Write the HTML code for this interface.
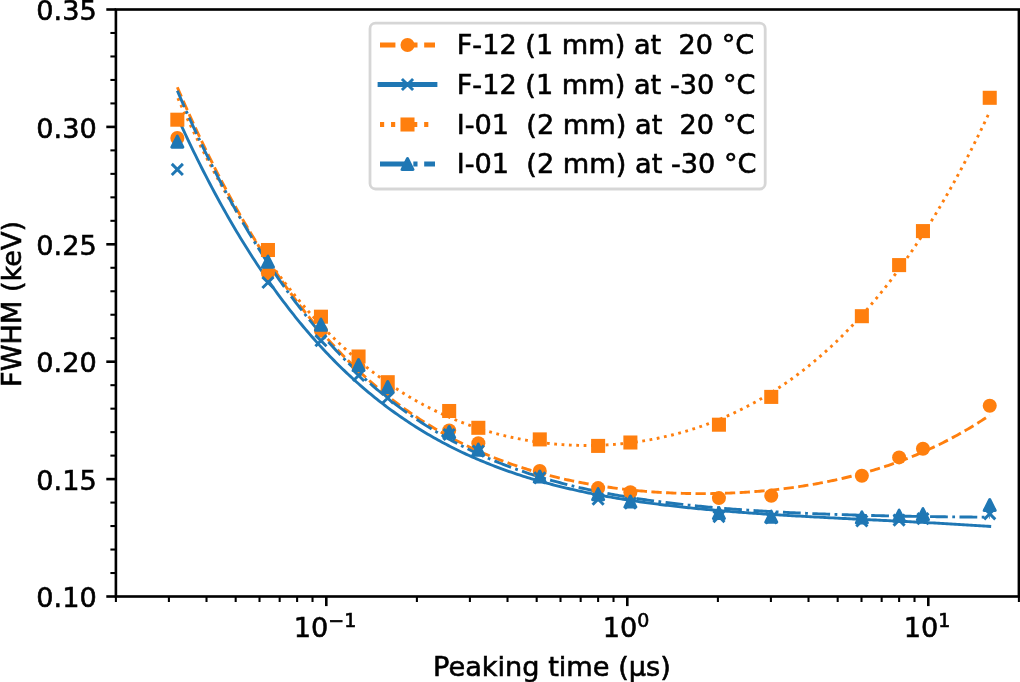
<!DOCTYPE html>
<html lang="en"><head><meta charset="utf-8"><title>FWHM vs peaking time</title>
<style>html,body{margin:0;padding:0;background:#fff;}svg{display:block;}</style></head>
<body>
<svg width="1020" height="682" viewBox="0 0 1020 682" font-family="'DejaVu Sans', 'Liberation Sans', sans-serif" font-size="27.17px">
<rect width="1020" height="682" fill="#fff"/>
<g fill="none" stroke-linejoin="round">
<polyline points="177.34,87.22 179.38,91.97 181.41,96.68 183.45,101.34 185.48,105.96 187.52,110.54 189.56,115.07 191.59,119.56 193.63,124.02 195.66,128.43 197.70,132.79 199.74,137.12 201.77,141.41 203.81,145.66 205.85,149.87 207.88,154.03 209.92,158.16 211.95,162.25 213.99,166.31 216.03,170.32 218.06,174.29 220.10,178.23 222.13,182.13 224.17,185.99 226.21,189.82 228.24,193.60 230.28,197.36 232.31,201.07 234.35,204.75 236.39,208.39 238.42,212.00 240.46,215.58 242.49,219.11 244.53,222.62 246.57,226.09 248.60,229.52 250.64,232.92 252.67,236.29 254.71,239.62 256.75,242.92 258.78,246.19 260.82,249.43 262.85,252.63 264.89,255.80 266.93,258.94 268.96,262.05 271.00,265.12 273.04,268.16 275.07,271.18 277.11,274.16 279.14,277.11 281.18,280.03 283.22,282.92 285.25,285.78 287.29,288.62 289.32,291.42 291.36,294.19 293.40,296.94 295.43,299.65 297.47,302.34 299.50,305.00 301.54,307.63 303.58,310.23 305.61,312.80 307.65,315.35 309.68,317.87 311.72,320.37 313.76,322.83 315.79,325.27 317.83,327.69 319.86,330.07 321.90,332.43 323.94,334.77 325.97,337.08 328.01,339.37 330.04,341.63 332.08,343.86 334.12,346.07 336.15,348.26 338.19,350.42 340.23,352.55 342.26,354.67 344.30,356.76 346.33,358.82 348.37,360.87 350.41,362.89 352.44,364.88 354.48,366.86 356.51,368.81 358.55,370.74 360.59,372.64 362.62,374.53 364.66,376.39 366.69,378.23 368.73,380.05 370.77,381.85 372.80,383.63 374.84,385.38 376.87,387.12 378.91,388.83 380.95,390.53 382.98,392.20 385.02,393.86 387.05,395.49 389.09,397.11 391.13,398.70 393.16,400.28 395.20,401.83 397.24,403.37 399.27,404.89 401.31,406.39 403.34,407.88 405.38,409.34 407.42,410.78 409.45,412.21 411.49,413.62 413.52,415.01 415.56,416.39 417.60,417.75 419.63,419.09 421.67,420.41 423.70,421.72 425.74,423.01 427.78,424.28 429.81,425.54 431.85,426.78 433.88,428.00 435.92,429.21 437.96,430.40 439.99,431.58 442.03,432.74 444.06,433.89 446.10,435.02 448.14,436.14 450.17,437.24 452.21,438.33 454.24,439.40 456.28,440.46 458.32,441.50 460.35,442.53 462.39,443.54 464.43,444.54 466.46,445.53 468.50,446.51 470.53,447.47 472.57,448.41 474.61,449.35 476.64,450.27 478.68,451.17 480.71,452.07 482.75,452.95 484.79,453.82 486.82,454.68 488.86,455.52 490.89,456.35 492.93,457.17 494.97,457.98 497.00,458.78 499.04,459.56 501.07,460.34 503.11,461.10 505.15,461.85 507.18,462.59 509.22,463.31 511.25,464.03 513.29,464.74 515.33,465.43 517.36,466.11 519.40,466.79 521.44,467.45 523.47,468.10 525.51,468.74 527.54,469.38 529.58,470.00 531.62,470.61 533.65,471.21 535.69,471.80 537.72,472.38 539.76,472.96 541.80,473.52 543.83,474.07 545.87,474.62 547.90,475.15 549.94,475.68 551.98,476.19 554.01,476.70 556.05,477.20 558.08,477.69 560.12,478.17 562.16,478.64 564.19,479.10 566.23,479.56 568.26,480.00 570.30,480.44 572.34,480.87 574.37,481.29 576.41,481.71 578.44,482.11 580.48,482.51 582.52,482.90 584.55,483.28 586.59,483.65 588.63,484.02 590.66,484.38 592.70,484.73 594.73,485.07 596.77,485.41 598.81,485.73 600.84,486.06 602.88,486.37 604.91,486.67 606.95,486.97 608.99,487.26 611.02,487.55 613.06,487.83 615.09,488.10 617.13,488.36 619.17,488.62 621.20,488.87 623.24,489.11 625.27,489.35 627.31,489.58 629.35,489.80 631.38,490.01 633.42,490.22 635.45,490.43 637.49,490.62 639.53,490.81 641.56,491.00 643.60,491.17 645.64,491.34 647.67,491.51 649.71,491.67 651.74,491.82 653.78,491.96 655.82,492.10 657.85,492.24 659.89,492.36 661.92,492.48 663.96,492.60 666.00,492.71 668.03,492.81 670.07,492.90 672.10,492.99 674.14,493.08 676.18,493.16 678.21,493.23 680.25,493.29 682.28,493.35 684.32,493.41 686.36,493.45 688.39,493.50 690.43,493.53 692.46,493.56 694.50,493.59 696.54,493.61 698.57,493.62 700.61,493.62 702.64,493.62 704.68,493.62 706.72,493.61 708.75,493.59 710.79,493.57 712.83,493.54 714.86,493.50 716.90,493.46 718.93,493.41 720.97,493.36 723.01,493.30 725.04,493.24 727.08,493.17 729.11,493.09 731.15,493.01 733.19,492.92 735.22,492.82 737.26,492.72 739.29,492.61 741.33,492.50 743.37,492.38 745.40,492.25 747.44,492.12 749.47,491.98 751.51,491.84 753.55,491.69 755.58,491.53 757.62,491.37 759.65,491.20 761.69,491.02 763.73,490.84 765.76,490.65 767.80,490.45 769.84,490.25 771.87,490.04 773.91,489.83 775.94,489.61 777.98,489.38 780.02,489.14 782.05,488.90 784.09,488.65 786.12,488.40 788.16,488.13 790.20,487.87 792.23,487.59 794.27,487.31 796.30,487.01 798.34,486.72 800.38,486.41 802.41,486.10 804.45,485.78 806.48,485.45 808.52,485.12 810.56,484.78 812.59,484.43 814.63,484.07 816.66,483.71 818.70,483.33 820.74,482.95 822.77,482.56 824.81,482.17 826.84,481.76 828.88,481.35 830.92,480.93 832.95,480.50 834.99,480.07 837.03,479.62 839.06,479.17 841.10,478.71 843.13,478.23 845.17,477.76 847.21,477.27 849.24,476.77 851.28,476.26 853.31,475.75 855.35,475.22 857.39,474.69 859.42,474.15 861.46,473.60 863.49,473.04 865.53,472.46 867.57,471.88 869.60,471.29 871.64,470.69 873.67,470.08 875.71,469.46 877.75,468.83 879.78,468.19 881.82,467.54 883.85,466.88 885.89,466.21 887.93,465.53 889.96,464.83 892.00,464.13 894.04,463.41 896.07,462.69 898.11,461.95 900.14,461.20 902.18,460.44 904.22,459.67 906.25,458.89 908.29,458.09 910.32,457.29 912.36,456.47 914.40,455.64 916.43,454.80 918.47,453.94 920.50,453.07 922.54,452.19 924.58,451.30 926.61,450.39 928.65,449.48 930.68,448.54 932.72,447.60 934.76,446.64 936.79,445.67 938.83,444.68 940.86,443.68 942.90,442.67 944.94,441.64 946.97,440.60 949.01,439.55 951.04,438.48 953.08,437.39 955.12,436.29 957.15,435.18 959.19,434.05 961.23,432.91 963.26,431.75 965.30,430.57 967.33,429.38 969.37,428.17 971.41,426.95 973.44,425.71 975.48,424.46 977.51,423.19 979.55,421.90 981.59,420.60 983.62,419.27 985.66,417.94 987.69,416.58 989.73,415.21" stroke="#ff7f0e" stroke-width="2.88" stroke-dasharray="10.28,4.44"/>
<polyline points="177.34,116.80 179.38,121.28 181.41,125.73 183.45,130.14 185.48,134.50 187.52,138.82 189.56,143.11 191.59,147.35 193.63,151.55 195.66,155.72 197.70,159.84 199.74,163.93 201.77,167.98 203.81,171.99 205.85,175.96 207.88,179.89 209.92,183.79 211.95,187.65 213.99,191.47 216.03,195.25 218.06,199.00 220.10,202.72 222.13,206.39 224.17,210.03 226.21,213.64 228.24,217.21 230.28,220.75 232.31,224.25 234.35,227.72 236.39,231.15 238.42,234.55 240.46,237.92 242.49,241.25 244.53,244.55 246.57,247.82 248.60,251.05 250.64,254.26 252.67,257.43 254.71,260.57 256.75,263.67 258.78,266.75 260.82,269.79 262.85,272.81 264.89,275.79 266.93,278.74 268.96,281.67 271.00,284.56 273.04,287.42 275.07,290.26 277.11,293.06 279.14,295.84 281.18,298.59 283.22,301.30 285.25,303.99 287.29,306.66 289.32,309.29 291.36,311.90 293.40,314.48 295.43,317.03 297.47,319.55 299.50,322.05 301.54,324.52 303.58,326.97 305.61,329.39 307.65,331.78 309.68,334.15 311.72,336.49 313.76,338.81 315.79,341.10 317.83,343.36 319.86,345.61 321.90,347.82 323.94,350.02 325.97,352.19 328.01,354.33 330.04,356.45 332.08,358.55 334.12,360.63 336.15,362.68 338.19,364.71 340.23,366.71 342.26,368.70 344.30,370.66 346.33,372.60 348.37,374.51 350.41,376.41 352.44,378.28 354.48,380.14 356.51,381.97 358.55,383.78 360.59,385.57 362.62,387.34 364.66,389.09 366.69,390.82 368.73,392.52 370.77,394.21 372.80,395.88 374.84,397.53 376.87,399.16 378.91,400.77 380.95,402.37 382.98,403.94 385.02,405.49 387.05,407.03 389.09,408.55 391.13,410.05 393.16,411.53 395.20,412.99 397.24,414.44 399.27,415.87 401.31,417.28 403.34,418.68 405.38,420.06 407.42,421.42 409.45,422.76 411.49,424.09 413.52,425.40 415.56,426.70 417.60,427.98 419.63,429.24 421.67,430.49 423.70,431.73 425.74,432.94 427.78,434.15 429.81,435.33 431.85,436.51 433.88,437.67 435.92,438.81 437.96,439.94 439.99,441.06 442.03,442.16 444.06,443.24 446.10,444.32 448.14,445.38 450.17,446.42 452.21,447.46 454.24,448.48 456.28,449.48 458.32,450.48 460.35,451.46 462.39,452.43 464.43,453.38 466.46,454.33 468.50,455.26 470.53,456.18 472.57,457.09 474.61,457.98 476.64,458.86 478.68,459.74 480.71,460.60 482.75,461.45 484.79,462.29 486.82,463.11 488.86,463.93 490.89,464.74 492.93,465.53 494.97,466.32 497.00,467.09 499.04,467.85 501.07,468.61 503.11,469.35 505.15,470.09 507.18,470.81 509.22,471.52 511.25,472.23 513.29,472.93 515.33,473.61 517.36,474.29 519.40,474.96 521.44,475.61 523.47,476.26 525.51,476.91 527.54,477.54 529.58,478.16 531.62,478.78 533.65,479.38 535.69,479.98 537.72,480.57 539.76,481.15 541.80,481.73 543.83,482.30 545.87,482.85 547.90,483.41 549.94,483.95 551.98,484.49 554.01,485.02 556.05,485.54 558.08,486.05 560.12,486.56 562.16,487.06 564.19,487.55 566.23,488.04 568.26,488.52 570.30,488.99 572.34,489.46 574.37,489.92 576.41,490.37 578.44,490.82 580.48,491.26 582.52,491.70 584.55,492.13 586.59,492.55 588.63,492.97 590.66,493.38 592.70,493.79 594.73,494.19 596.77,494.58 598.81,494.97 600.84,495.36 602.88,495.73 604.91,496.11 606.95,496.48 608.99,496.84 611.02,497.20 613.06,497.55 615.09,497.90 617.13,498.24 619.17,498.58 621.20,498.91 623.24,499.24 625.27,499.57 627.31,499.89 629.35,500.20 631.38,500.51 633.42,500.82 635.45,501.12 637.49,501.42 639.53,501.72 641.56,502.01 643.60,502.30 645.64,502.58 647.67,502.86 649.71,503.13 651.74,503.40 653.78,503.67 655.82,503.93 657.85,504.19 659.89,504.45 661.92,504.70 663.96,504.95 666.00,505.20 668.03,505.44 670.07,505.68 672.10,505.92 674.14,506.15 676.18,506.38 678.21,506.61 680.25,506.83 682.28,507.06 684.32,507.27 686.36,507.49 688.39,507.70 690.43,507.91 692.46,508.12 694.50,508.32 696.54,508.52 698.57,508.72 700.61,508.92 702.64,509.11 704.68,509.30 706.72,509.49 708.75,509.68 710.79,509.86 712.83,510.05 714.86,510.23 716.90,510.40 718.93,510.58 720.97,510.75 723.01,510.92 725.04,511.09 727.08,511.26 729.11,511.42 731.15,511.58 733.19,511.75 735.22,511.90 737.26,512.06 739.29,512.22 741.33,512.37 743.37,512.52 745.40,512.67 747.44,512.82 749.47,512.97 751.51,513.11 753.55,513.25 755.58,513.40 757.62,513.54 759.65,513.68 761.69,513.81 763.73,513.95 765.76,514.08 767.80,514.22 769.84,514.35 771.87,514.48 773.91,514.61 775.94,514.74 777.98,514.86 780.02,514.99 782.05,515.11 784.09,515.24 786.12,515.36 788.16,515.48 790.20,515.60 792.23,515.72 794.27,515.84 796.30,515.95 798.34,516.07 800.38,516.18 802.41,516.30 804.45,516.41 806.48,516.52 808.52,516.64 810.56,516.75 812.59,516.86 814.63,516.97 816.66,517.08 818.70,517.18 820.74,517.29 822.77,517.40 824.81,517.51 826.84,517.61 828.88,517.72 830.92,517.82 832.95,517.93 834.99,518.03 837.03,518.13 839.06,518.24 841.10,518.34 843.13,518.44 845.17,518.54 847.21,518.64 849.24,518.74 851.28,518.85 853.31,518.95 855.35,519.05 857.39,519.15 859.42,519.25 861.46,519.35 863.49,519.45 865.53,519.55 867.57,519.65 869.60,519.75 871.64,519.84 873.67,519.94 875.71,520.04 877.75,520.14 879.78,520.24 881.82,520.34 883.85,520.44 885.89,520.54 887.93,520.64 889.96,520.74 892.00,520.84 894.04,520.94 896.07,521.04 898.11,521.15 900.14,521.25 902.18,521.35 904.22,521.45 906.25,521.55 908.29,521.66 910.32,521.76 912.36,521.86 914.40,521.97 916.43,522.07 918.47,522.18 920.50,522.29 922.54,522.39 924.58,522.50 926.61,522.61 928.65,522.72 930.68,522.82 932.72,522.93 934.76,523.05 936.79,523.16 938.83,523.27 940.86,523.38 942.90,523.50 944.94,523.61 946.97,523.73 949.01,523.84 951.04,523.96 953.08,524.08 955.12,524.20 957.15,524.32 959.19,524.44 961.23,524.57 963.26,524.69 965.30,524.82 967.33,524.94 969.37,525.07 971.41,525.20 973.44,525.33 975.48,525.46 977.51,525.59 979.55,525.73 981.59,525.87 983.62,526.00 985.66,526.14 987.69,526.28 989.73,526.43" stroke="#1f77b4" stroke-width="2.88" stroke-linecap="square"/>
<polyline points="177.34,97.15 179.38,101.64 181.41,106.09 183.45,110.50 185.48,114.87 187.52,119.19 189.56,123.48 191.59,127.72 193.63,131.93 195.66,136.09 197.70,140.21 199.74,144.29 201.77,148.34 203.81,152.34 205.85,156.30 207.88,160.23 209.92,164.12 211.95,167.96 213.99,171.78 216.03,175.55 218.06,179.29 220.10,182.98 222.13,186.65 224.17,190.27 226.21,193.86 228.24,197.41 230.28,200.93 232.31,204.41 234.35,207.86 236.39,211.27 238.42,214.65 240.46,217.99 242.49,221.30 244.53,224.57 246.57,227.81 248.60,231.02 250.64,234.19 252.67,237.33 254.71,240.44 256.75,243.51 258.78,246.55 260.82,249.56 262.85,252.54 264.89,255.49 266.93,258.41 268.96,261.29 271.00,264.14 273.04,266.96 275.07,269.76 277.11,272.52 279.14,275.25 281.18,277.95 283.22,280.62 285.25,283.27 287.29,285.88 289.32,288.47 291.36,291.02 293.40,293.55 295.43,296.05 297.47,298.52 299.50,300.96 301.54,303.38 303.58,305.77 305.61,308.13 307.65,310.46 309.68,312.77 311.72,315.05 313.76,317.31 315.79,319.53 317.83,321.74 319.86,323.91 321.90,326.06 323.94,328.19 325.97,330.29 328.01,332.36 330.04,334.41 332.08,336.44 334.12,338.44 336.15,340.41 338.19,342.37 340.23,344.30 342.26,346.20 344.30,348.08 346.33,349.94 348.37,351.77 350.41,353.59 352.44,355.38 354.48,357.14 356.51,358.89 358.55,360.61 360.59,362.31 362.62,363.98 364.66,365.64 366.69,367.27 368.73,368.89 370.77,370.48 372.80,372.05 374.84,373.60 376.87,375.13 378.91,376.64 380.95,378.12 382.98,379.59 385.02,381.04 387.05,382.47 389.09,383.88 391.13,385.26 393.16,386.63 395.20,387.98 397.24,389.31 399.27,390.62 401.31,391.92 403.34,393.19 405.38,394.44 407.42,395.68 409.45,396.90 411.49,398.10 413.52,399.28 415.56,400.45 417.60,401.59 419.63,402.72 421.67,403.83 423.70,404.93 425.74,406.00 427.78,407.06 429.81,408.11 431.85,409.13 433.88,410.14 435.92,411.14 437.96,412.11 439.99,413.07 442.03,414.02 444.06,414.95 446.10,415.86 448.14,416.76 450.17,417.64 452.21,418.50 454.24,419.35 456.28,420.19 458.32,421.00 460.35,421.81 462.39,422.60 464.43,423.37 466.46,424.13 468.50,424.87 470.53,425.60 472.57,426.32 474.61,427.02 476.64,427.71 478.68,428.38 480.71,429.04 482.75,429.68 484.79,430.31 486.82,430.93 488.86,431.53 490.89,432.12 492.93,432.69 494.97,433.25 497.00,433.80 499.04,434.34 501.07,434.86 503.11,435.37 505.15,435.86 507.18,436.34 509.22,436.81 511.25,437.27 513.29,437.71 515.33,438.14 517.36,438.56 519.40,438.96 521.44,439.35 523.47,439.73 525.51,440.10 527.54,440.45 529.58,440.79 531.62,441.12 533.65,441.44 535.69,441.74 537.72,442.04 539.76,442.32 541.80,442.59 543.83,442.84 545.87,443.08 547.90,443.32 549.94,443.54 551.98,443.74 554.01,443.94 556.05,444.12 558.08,444.30 560.12,444.46 562.16,444.60 564.19,444.74 566.23,444.87 568.26,444.98 570.30,445.08 572.34,445.17 574.37,445.25 576.41,445.31 578.44,445.37 580.48,445.41 582.52,445.44 584.55,445.46 586.59,445.47 588.63,445.46 590.66,445.45 592.70,445.42 594.73,445.38 596.77,445.33 598.81,445.26 600.84,445.19 602.88,445.10 604.91,445.01 606.95,444.90 608.99,444.77 611.02,444.64 613.06,444.50 615.09,444.34 617.13,444.17 619.17,443.99 621.20,443.80 623.24,443.59 625.27,443.37 627.31,443.15 629.35,442.91 631.38,442.65 633.42,442.39 635.45,442.11 637.49,441.82 639.53,441.52 641.56,441.21 643.60,440.88 645.64,440.54 647.67,440.19 649.71,439.83 651.74,439.45 653.78,439.06 655.82,438.66 657.85,438.25 659.89,437.82 661.92,437.38 663.96,436.93 666.00,436.46 668.03,435.99 670.07,435.50 672.10,434.99 674.14,434.47 676.18,433.94 678.21,433.40 680.25,432.84 682.28,432.27 684.32,431.68 686.36,431.08 688.39,430.47 690.43,429.85 692.46,429.21 694.50,428.55 696.54,427.88 698.57,427.20 700.61,426.50 702.64,425.79 704.68,425.06 706.72,424.32 708.75,423.57 710.79,422.80 712.83,422.01 714.86,421.21 716.90,420.40 718.93,419.57 720.97,418.72 723.01,417.86 725.04,416.98 727.08,416.09 729.11,415.18 731.15,414.26 733.19,413.32 735.22,412.36 737.26,411.39 739.29,410.40 741.33,409.40 743.37,408.38 745.40,407.34 747.44,406.28 749.47,405.21 751.51,404.12 753.55,403.01 755.58,401.89 757.62,400.74 759.65,399.58 761.69,398.41 763.73,397.21 765.76,396.00 767.80,394.77 769.84,393.52 771.87,392.25 773.91,390.96 775.94,389.65 777.98,388.33 780.02,386.98 782.05,385.62 784.09,384.24 786.12,382.83 788.16,381.41 790.20,379.97 792.23,378.51 794.27,377.02 796.30,375.52 798.34,374.00 800.38,372.45 802.41,370.89 804.45,369.30 806.48,367.69 808.52,366.07 810.56,364.41 812.59,362.74 814.63,361.05 816.66,359.33 818.70,357.59 820.74,355.83 822.77,354.05 824.81,352.25 826.84,350.42 828.88,348.56 830.92,346.69 832.95,344.79 834.99,342.87 837.03,340.92 839.06,338.95 841.10,336.96 843.13,334.94 845.17,332.89 847.21,330.83 849.24,328.73 851.28,326.61 853.31,324.47 855.35,322.30 857.39,320.11 859.42,317.88 861.46,315.64 863.49,313.36 865.53,311.06 867.57,308.74 869.60,306.38 871.64,304.00 873.67,301.59 875.71,299.16 877.75,296.69 879.78,294.20 881.82,291.68 883.85,289.13 885.89,286.55 887.93,283.95 889.96,281.31 892.00,278.65 894.04,275.95 896.07,273.23 898.11,270.47 900.14,267.69 902.18,264.88 904.22,262.03 906.25,259.15 908.29,256.25 910.32,253.31 912.36,250.34 914.40,247.34 916.43,244.30 918.47,241.24 920.50,238.14 922.54,235.01 924.58,231.84 926.61,228.64 928.65,225.41 930.68,222.15 932.72,218.85 934.76,215.51 936.79,212.15 938.83,208.75 940.86,205.31 942.90,201.84 944.94,198.33 946.97,194.78 949.01,191.20 951.04,187.59 953.08,183.94 955.12,180.25 957.15,176.52 959.19,172.76 961.23,168.95 963.26,165.12 965.30,161.24 967.33,157.32 969.37,153.37 971.41,149.37 973.44,145.34 975.48,141.27 977.51,137.16 979.55,133.01 981.59,128.81 983.62,124.58 985.66,120.31 987.69,115.99 989.73,111.64" stroke="#ff7f0e" stroke-width="2.88" stroke-dasharray="2.78,4.58" stroke-dashoffset="-1.2"/>
<polyline points="177.34,90.74 179.38,95.46 181.41,100.14 183.45,104.78 185.48,109.37 187.52,113.92 189.56,118.43 191.59,122.90 193.63,127.32 195.66,131.71 197.70,136.05 199.74,140.36 201.77,144.62 203.81,148.84 205.85,153.03 207.88,157.17 209.92,161.28 211.95,165.35 213.99,169.37 216.03,173.37 218.06,177.32 220.10,181.23 222.13,185.11 224.17,188.95 226.21,192.76 228.24,196.52 230.28,200.25 232.31,203.95 234.35,207.61 236.39,211.23 238.42,214.82 240.46,218.38 242.49,221.89 244.53,225.38 246.57,228.83 248.60,232.25 250.64,235.63 252.67,238.98 254.71,242.30 256.75,245.58 258.78,248.83 260.82,252.05 262.85,255.24 264.89,258.39 266.93,261.51 268.96,264.60 271.00,267.66 273.04,270.69 275.07,273.69 277.11,276.66 279.14,279.60 281.18,282.50 283.22,285.38 285.25,288.23 287.29,291.05 289.32,293.84 291.36,296.60 293.40,299.33 295.43,302.03 297.47,304.71 299.50,307.36 301.54,309.98 303.58,312.57 305.61,315.13 307.65,317.67 309.68,320.18 311.72,322.67 313.76,325.12 315.79,327.55 317.83,329.96 319.86,332.34 321.90,334.69 323.94,337.02 325.97,339.32 328.01,341.60 330.04,343.85 332.08,346.08 334.12,348.29 336.15,350.47 338.19,352.62 340.23,354.76 342.26,356.86 344.30,358.95 346.33,361.01 348.37,363.05 350.41,365.07 352.44,367.06 354.48,369.03 356.51,370.98 358.55,372.91 360.59,374.81 362.62,376.70 364.66,378.56 366.69,380.40 368.73,382.22 370.77,384.02 372.80,385.80 374.84,387.55 376.87,389.29 378.91,391.01 380.95,392.70 382.98,394.38 385.02,396.04 387.05,397.68 389.09,399.30 391.13,400.90 393.16,402.48 395.20,404.04 397.24,405.58 399.27,407.11 401.31,408.62 403.34,410.11 405.38,411.58 407.42,413.03 409.45,414.47 411.49,415.89 413.52,417.29 415.56,418.67 417.60,420.04 419.63,421.39 421.67,422.72 423.70,424.04 425.74,425.34 427.78,426.63 429.81,427.90 431.85,429.16 433.88,430.39 435.92,431.62 437.96,432.83 439.99,434.02 442.03,435.20 444.06,436.36 446.10,437.51 448.14,438.64 450.17,439.76 452.21,440.87 454.24,441.96 456.28,443.04 458.32,444.10 460.35,445.15 462.39,446.19 464.43,447.21 466.46,448.22 468.50,449.22 470.53,450.21 472.57,451.18 474.61,452.14 476.64,453.09 478.68,454.02 480.71,454.94 482.75,455.85 484.79,456.75 486.82,457.64 488.86,458.51 490.89,459.38 492.93,460.23 494.97,461.07 497.00,461.90 499.04,462.72 501.07,463.53 503.11,464.32 505.15,465.11 507.18,465.89 509.22,466.65 511.25,467.41 513.29,468.15 515.33,468.89 517.36,469.61 519.40,470.33 521.44,471.03 523.47,471.73 525.51,472.42 527.54,473.09 529.58,473.76 531.62,474.42 533.65,475.07 535.69,475.71 537.72,476.35 539.76,476.97 541.80,477.58 543.83,478.19 545.87,478.79 547.90,479.38 549.94,479.96 551.98,480.54 554.01,481.10 556.05,481.66 558.08,482.21 560.12,482.75 562.16,483.29 564.19,483.82 566.23,484.34 568.26,484.85 570.30,485.35 572.34,485.85 574.37,486.34 576.41,486.83 578.44,487.31 580.48,487.78 582.52,488.24 584.55,488.70 586.59,489.15 588.63,489.60 590.66,490.03 592.70,490.47 594.73,490.89 596.77,491.31 598.81,491.73 600.84,492.14 602.88,492.54 604.91,492.93 606.95,493.33 608.99,493.71 611.02,494.09 613.06,494.46 615.09,494.83 617.13,495.20 619.17,495.56 621.20,495.91 623.24,496.26 625.27,496.60 627.31,496.94 629.35,497.27 631.38,497.60 633.42,497.92 635.45,498.24 637.49,498.56 639.53,498.87 641.56,499.17 643.60,499.47 645.64,499.77 647.67,500.06 649.71,500.35 651.74,500.63 653.78,500.91 655.82,501.18 657.85,501.45 659.89,501.72 661.92,501.98 663.96,502.24 666.00,502.50 668.03,502.75 670.07,503.00 672.10,503.24 674.14,503.48 676.18,503.72 678.21,503.95 680.25,504.18 682.28,504.41 684.32,504.63 686.36,504.85 688.39,505.07 690.43,505.28 692.46,505.49 694.50,505.70 696.54,505.90 698.57,506.10 700.61,506.30 702.64,506.50 704.68,506.69 706.72,506.88 708.75,507.06 710.79,507.25 712.83,507.43 714.86,507.61 716.90,507.78 718.93,507.95 720.97,508.12 723.01,508.29 725.04,508.46 727.08,508.62 729.11,508.78 731.15,508.93 733.19,509.09 735.22,509.24 737.26,509.39 739.29,509.54 741.33,509.69 743.37,509.83 745.40,509.97 747.44,510.11 749.47,510.25 751.51,510.38 753.55,510.51 755.58,510.65 757.62,510.77 759.65,510.90 761.69,511.03 763.73,511.15 765.76,511.27 767.80,511.39 769.84,511.50 771.87,511.62 773.91,511.73 775.94,511.85 777.98,511.96 780.02,512.06 782.05,512.17 784.09,512.28 786.12,512.38 788.16,512.48 790.20,512.58 792.23,512.68 794.27,512.78 796.30,512.87 798.34,512.96 800.38,513.06 802.41,513.15 804.45,513.24 806.48,513.32 808.52,513.41 810.56,513.50 812.59,513.58 814.63,513.66 816.66,513.74 818.70,513.82 820.74,513.90 822.77,513.98 824.81,514.05 826.84,514.13 828.88,514.20 830.92,514.27 832.95,514.35 834.99,514.42 837.03,514.48 839.06,514.55 841.10,514.62 843.13,514.68 845.17,514.75 847.21,514.81 849.24,514.87 851.28,514.93 853.31,514.99 855.35,515.05 857.39,515.11 859.42,515.17 861.46,515.22 863.49,515.28 865.53,515.33 867.57,515.38 869.60,515.44 871.64,515.49 873.67,515.54 875.71,515.59 877.75,515.64 879.78,515.68 881.82,515.73 883.85,515.78 885.89,515.82 887.93,515.86 889.96,515.91 892.00,515.95 894.04,515.99 896.07,516.03 898.11,516.07 900.14,516.11 902.18,516.15 904.22,516.19 906.25,516.23 908.29,516.26 910.32,516.30 912.36,516.33 914.40,516.37 916.43,516.40 918.47,516.43 920.50,516.47 922.54,516.50 924.58,516.53 926.61,516.56 928.65,516.59 930.68,516.62 932.72,516.64 934.76,516.67 936.79,516.70 938.83,516.72 940.86,516.75 942.90,516.77 944.94,516.80 946.97,516.82 949.01,516.85 951.04,516.87 953.08,516.89 955.12,516.91 957.15,516.93 959.19,516.95 961.23,516.97 963.26,516.99 965.30,517.01 967.33,517.03 969.37,517.04 971.41,517.06 973.44,517.08 975.48,517.09 977.51,517.11 979.55,517.12 981.59,517.14 983.62,517.15 985.66,517.16 987.69,517.18 989.73,517.19" stroke="#1f77b4" stroke-width="2.88" stroke-dasharray="17.78,4.44,2.78,4.44"/>
</g>
<g><circle cx="177.34" cy="138.00" r="7.02" fill="#ff7f0e"/><circle cx="267.95" cy="273.20" r="7.02" fill="#ff7f0e"/><circle cx="320.95" cy="330.80" r="7.02" fill="#ff7f0e"/><circle cx="358.56" cy="367.00" r="7.02" fill="#ff7f0e"/><circle cx="387.73" cy="390.00" r="7.02" fill="#ff7f0e"/><circle cx="449.17" cy="430.40" r="7.02" fill="#ff7f0e"/><circle cx="478.34" cy="443.30" r="7.02" fill="#ff7f0e"/><circle cx="539.78" cy="471.00" r="7.02" fill="#ff7f0e"/><circle cx="598.12" cy="488.10" r="7.02" fill="#ff7f0e"/><circle cx="630.39" cy="492.20" r="7.02" fill="#ff7f0e"/><circle cx="718.94" cy="498.10" r="7.02" fill="#ff7f0e"/><circle cx="771.25" cy="495.70" r="7.02" fill="#ff7f0e"/><circle cx="861.86" cy="475.70" r="7.02" fill="#ff7f0e"/><circle cx="899.12" cy="457.40" r="7.02" fill="#ff7f0e"/><circle cx="922.95" cy="448.80" r="7.02" fill="#ff7f0e"/><circle cx="989.73" cy="405.80" r="7.02" fill="#ff7f0e"/></g>
<g><path d="M171.78 163.84L182.90 174.96M171.78 174.96L182.90 163.84" stroke="#1f77b4" stroke-width="2.93" fill="none"/><path d="M262.39 276.94L273.51 288.06M262.39 288.06L273.51 276.94" stroke="#1f77b4" stroke-width="2.93" fill="none"/><path d="M315.40 335.14L326.51 346.26M315.40 346.26L326.51 335.14" stroke="#1f77b4" stroke-width="2.93" fill="none"/><path d="M353.00 369.94L364.12 381.06M353.00 381.06L364.12 369.94" stroke="#1f77b4" stroke-width="2.93" fill="none"/><path d="M382.17 392.44L393.29 403.56M382.17 403.56L393.29 392.44" stroke="#1f77b4" stroke-width="2.93" fill="none"/><path d="M443.61 428.94L454.73 440.06M443.61 440.06L454.73 428.94" stroke="#1f77b4" stroke-width="2.93" fill="none"/><path d="M472.78 445.44L483.90 456.56M472.78 456.56L483.90 445.44" stroke="#1f77b4" stroke-width="2.93" fill="none"/><path d="M534.22 472.24L545.34 483.36M534.22 483.36L545.34 472.24" stroke="#1f77b4" stroke-width="2.93" fill="none"/><path d="M592.56 493.64L603.68 504.76M592.56 504.76L603.68 493.64" stroke="#1f77b4" stroke-width="2.93" fill="none"/><path d="M624.83 497.54L635.95 508.66M624.83 508.66L635.95 497.54" stroke="#1f77b4" stroke-width="2.93" fill="none"/><path d="M713.39 511.04L724.50 522.16M713.39 522.16L724.50 511.04" stroke="#1f77b4" stroke-width="2.93" fill="none"/><path d="M765.70 512.44L776.81 523.56M765.70 523.56L776.81 512.44" stroke="#1f77b4" stroke-width="2.93" fill="none"/><path d="M856.31 515.44L867.42 526.56M856.31 526.56L867.42 515.44" stroke="#1f77b4" stroke-width="2.93" fill="none"/><path d="M893.56 514.54L904.68 525.66M893.56 525.66L904.68 514.54" stroke="#1f77b4" stroke-width="2.93" fill="none"/><path d="M917.40 513.14L928.51 524.26M917.40 524.26L928.51 513.14" stroke="#1f77b4" stroke-width="2.93" fill="none"/><path d="M984.17 508.24L995.29 519.36M984.17 519.36L995.29 508.24" stroke="#1f77b4" stroke-width="2.93" fill="none"/></g>
<g><rect x="170.32" y="112.68" width="14.04" height="14.04" fill="#ff7f0e"/><rect x="260.93" y="242.98" width="14.04" height="14.04" fill="#ff7f0e"/><rect x="313.93" y="309.68" width="14.04" height="14.04" fill="#ff7f0e"/><rect x="351.54" y="349.48" width="14.04" height="14.04" fill="#ff7f0e"/><rect x="380.71" y="375.18" width="14.04" height="14.04" fill="#ff7f0e"/><rect x="442.15" y="403.98" width="14.04" height="14.04" fill="#ff7f0e"/><rect x="471.32" y="420.78" width="14.04" height="14.04" fill="#ff7f0e"/><rect x="532.76" y="432.38" width="14.04" height="14.04" fill="#ff7f0e"/><rect x="591.10" y="438.88" width="14.04" height="14.04" fill="#ff7f0e"/><rect x="623.37" y="435.48" width="14.04" height="14.04" fill="#ff7f0e"/><rect x="711.92" y="417.68" width="14.04" height="14.04" fill="#ff7f0e"/><rect x="764.23" y="389.88" width="14.04" height="14.04" fill="#ff7f0e"/><rect x="854.84" y="309.18" width="14.04" height="14.04" fill="#ff7f0e"/><rect x="892.10" y="258.08" width="14.04" height="14.04" fill="#ff7f0e"/><rect x="915.93" y="224.08" width="14.04" height="14.04" fill="#ff7f0e"/><rect x="982.71" y="90.78" width="14.04" height="14.04" fill="#ff7f0e"/></g>
<g><path d="M177.34 136.04L171.78 147.16L182.90 147.16Z" fill="#1f77b4" stroke="#1f77b4" stroke-width="2.93" stroke-linejoin="round"/><path d="M267.95 256.04L262.39 267.16L273.51 267.16Z" fill="#1f77b4" stroke="#1f77b4" stroke-width="2.93" stroke-linejoin="round"/><path d="M320.95 319.14L315.40 330.26L326.51 330.26Z" fill="#1f77b4" stroke="#1f77b4" stroke-width="2.93" stroke-linejoin="round"/><path d="M358.56 359.44L353.00 370.56L364.12 370.56Z" fill="#1f77b4" stroke="#1f77b4" stroke-width="2.93" stroke-linejoin="round"/><path d="M387.73 381.44L382.17 392.56L393.29 392.56Z" fill="#1f77b4" stroke="#1f77b4" stroke-width="2.93" stroke-linejoin="round"/><path d="M449.17 426.44L443.61 437.56L454.73 437.56Z" fill="#1f77b4" stroke="#1f77b4" stroke-width="2.93" stroke-linejoin="round"/><path d="M478.34 444.04L472.78 455.16L483.90 455.16Z" fill="#1f77b4" stroke="#1f77b4" stroke-width="2.93" stroke-linejoin="round"/><path d="M539.78 470.94L534.22 482.06L545.34 482.06Z" fill="#1f77b4" stroke="#1f77b4" stroke-width="2.93" stroke-linejoin="round"/><path d="M598.12 488.64L592.56 499.76L603.68 499.76Z" fill="#1f77b4" stroke="#1f77b4" stroke-width="2.93" stroke-linejoin="round"/><path d="M630.39 495.94L624.83 507.06L635.95 507.06Z" fill="#1f77b4" stroke="#1f77b4" stroke-width="2.93" stroke-linejoin="round"/><path d="M718.94 507.44L713.39 518.56L724.50 518.56Z" fill="#1f77b4" stroke="#1f77b4" stroke-width="2.93" stroke-linejoin="round"/><path d="M771.25 511.14L765.70 522.26L776.81 522.26Z" fill="#1f77b4" stroke="#1f77b4" stroke-width="2.93" stroke-linejoin="round"/><path d="M861.86 511.84L856.31 522.96L867.42 522.96Z" fill="#1f77b4" stroke="#1f77b4" stroke-width="2.93" stroke-linejoin="round"/><path d="M899.12 510.04L893.56 521.16L904.68 521.16Z" fill="#1f77b4" stroke="#1f77b4" stroke-width="2.93" stroke-linejoin="round"/><path d="M922.95 508.64L917.40 519.76L928.51 519.76Z" fill="#1f77b4" stroke="#1f77b4" stroke-width="2.93" stroke-linejoin="round"/><path d="M989.73 499.44L984.17 510.56L995.29 510.56Z" fill="#1f77b4" stroke="#1f77b4" stroke-width="2.93" stroke-linejoin="round"/></g>
<rect x="115.9" y="9.5" width="903.0" height="587.0" fill="none" stroke="#000" stroke-width="2.62"/>
<g stroke="#000"><line x1="106.30" y1="596.50" x2="115.9" y2="596.50" stroke-width="2.62"/><line x1="106.30" y1="479.10" x2="115.9" y2="479.10" stroke-width="2.62"/><line x1="106.30" y1="361.70" x2="115.9" y2="361.70" stroke-width="2.62"/><line x1="106.30" y1="244.30" x2="115.9" y2="244.30" stroke-width="2.62"/><line x1="106.30" y1="126.90" x2="115.9" y2="126.90" stroke-width="2.62"/><line x1="106.30" y1="9.50" x2="115.9" y2="9.50" stroke-width="2.62"/><line x1="110.40" y1="573.02" x2="115.9" y2="573.02" stroke-width="2.07"/><line x1="110.40" y1="549.54" x2="115.9" y2="549.54" stroke-width="2.07"/><line x1="110.40" y1="526.06" x2="115.9" y2="526.06" stroke-width="2.07"/><line x1="110.40" y1="502.58" x2="115.9" y2="502.58" stroke-width="2.07"/><line x1="110.40" y1="455.62" x2="115.9" y2="455.62" stroke-width="2.07"/><line x1="110.40" y1="432.14" x2="115.9" y2="432.14" stroke-width="2.07"/><line x1="110.40" y1="408.66" x2="115.9" y2="408.66" stroke-width="2.07"/><line x1="110.40" y1="385.18" x2="115.9" y2="385.18" stroke-width="2.07"/><line x1="110.40" y1="338.22" x2="115.9" y2="338.22" stroke-width="2.07"/><line x1="110.40" y1="314.74" x2="115.9" y2="314.74" stroke-width="2.07"/><line x1="110.40" y1="291.26" x2="115.9" y2="291.26" stroke-width="2.07"/><line x1="110.40" y1="267.78" x2="115.9" y2="267.78" stroke-width="2.07"/><line x1="110.40" y1="220.82" x2="115.9" y2="220.82" stroke-width="2.07"/><line x1="110.40" y1="197.34" x2="115.9" y2="197.34" stroke-width="2.07"/><line x1="110.40" y1="173.86" x2="115.9" y2="173.86" stroke-width="2.07"/><line x1="110.40" y1="150.38" x2="115.9" y2="150.38" stroke-width="2.07"/><line x1="110.40" y1="103.42" x2="115.9" y2="103.42" stroke-width="2.07"/><line x1="110.40" y1="79.94" x2="115.9" y2="79.94" stroke-width="2.07"/><line x1="110.40" y1="56.46" x2="115.9" y2="56.46" stroke-width="2.07"/><line x1="110.40" y1="32.98" x2="115.9" y2="32.98" stroke-width="2.07"/><line x1="326.29" y1="596.5" x2="326.29" y2="606.10" stroke-width="2.62"/><line x1="627.29" y1="596.5" x2="627.29" y2="606.10" stroke-width="2.62"/><line x1="928.29" y1="596.5" x2="928.29" y2="606.10" stroke-width="2.62"/><line x1="115.90" y1="596.5" x2="115.90" y2="602.00" stroke-width="2.07"/><line x1="168.90" y1="596.5" x2="168.90" y2="602.00" stroke-width="2.07"/><line x1="206.51" y1="596.5" x2="206.51" y2="602.00" stroke-width="2.07"/><line x1="235.68" y1="596.5" x2="235.68" y2="602.00" stroke-width="2.07"/><line x1="259.51" y1="596.5" x2="259.51" y2="602.00" stroke-width="2.07"/><line x1="279.66" y1="596.5" x2="279.66" y2="602.00" stroke-width="2.07"/><line x1="297.12" y1="596.5" x2="297.12" y2="602.00" stroke-width="2.07"/><line x1="312.52" y1="596.5" x2="312.52" y2="602.00" stroke-width="2.07"/><line x1="416.90" y1="596.5" x2="416.90" y2="602.00" stroke-width="2.07"/><line x1="469.90" y1="596.5" x2="469.90" y2="602.00" stroke-width="2.07"/><line x1="507.51" y1="596.5" x2="507.51" y2="602.00" stroke-width="2.07"/><line x1="536.68" y1="596.5" x2="536.68" y2="602.00" stroke-width="2.07"/><line x1="560.51" y1="596.5" x2="560.51" y2="602.00" stroke-width="2.07"/><line x1="580.66" y1="596.5" x2="580.66" y2="602.00" stroke-width="2.07"/><line x1="598.12" y1="596.5" x2="598.12" y2="602.00" stroke-width="2.07"/><line x1="613.52" y1="596.5" x2="613.52" y2="602.00" stroke-width="2.07"/><line x1="717.90" y1="596.5" x2="717.90" y2="602.00" stroke-width="2.07"/><line x1="770.90" y1="596.5" x2="770.90" y2="602.00" stroke-width="2.07"/><line x1="808.51" y1="596.5" x2="808.51" y2="602.00" stroke-width="2.07"/><line x1="837.68" y1="596.5" x2="837.68" y2="602.00" stroke-width="2.07"/><line x1="861.51" y1="596.5" x2="861.51" y2="602.00" stroke-width="2.07"/><line x1="881.66" y1="596.5" x2="881.66" y2="602.00" stroke-width="2.07"/><line x1="899.12" y1="596.5" x2="899.12" y2="602.00" stroke-width="2.07"/><line x1="914.52" y1="596.5" x2="914.52" y2="602.00" stroke-width="2.07"/><line x1="1018.90" y1="596.5" x2="1018.90" y2="602.00" stroke-width="2.07"/></g>
<g fill="#000" stroke="#000" stroke-width="0.6">
<text x="96.80" y="607.10" text-anchor="end">0.10</text>
<text x="96.80" y="489.70" text-anchor="end">0.15</text>
<text x="96.80" y="372.30" text-anchor="end">0.20</text>
<text x="96.80" y="254.90" text-anchor="end">0.25</text>
<text x="96.80" y="137.50" text-anchor="end">0.30</text>
<text x="96.80" y="20.10" text-anchor="end">0.35</text>
<text x="325.09" y="636.9" text-anchor="middle">10<tspan font-size="19.02px" dy="-10.3">−1</tspan></text>
<text x="626.09" y="636.9" text-anchor="middle">10<tspan font-size="19.02px" dy="-10.3">0</tspan></text>
<text x="927.09" y="636.9" text-anchor="middle">10<tspan font-size="19.02px" dy="-10.3">1</tspan></text>
<text x="551.9" y="675.5" text-anchor="middle">Peaking time (µs)</text>
<text transform="translate(21,303.9) rotate(-90)" text-anchor="middle">FWHM (keV)</text>
</g>
<rect x="370.0" y="23.2" width="395.20000000000005" height="165.8" rx="5.5" ry="5.5" fill="#fff" fill-opacity="0.8" stroke="#ccc" stroke-opacity="0.8" stroke-width="2.78"/>
<line x1="380.0" y1="45.0" x2="435.00" y2="45.0" stroke="#ff7f0e" stroke-width="4.77" stroke-dasharray="15.42,6.67"/>
<circle cx="407.50" cy="45.00" r="7.02" fill="#ff7f0e"/>
<text x="456.74" y="54.20" xml:space="preserve" style="white-space:pre" fill="#000" stroke="#000" stroke-width="0.6">F-12 (1 mm) at  20 °C</text>
<line x1="380.0" y1="84.5" x2="435.00" y2="84.5" stroke="#1f77b4" stroke-width="4.77" stroke-linecap="square"/>
<path d="M401.94 78.94L413.06 90.06M401.94 90.06L413.06 78.94" stroke="#1f77b4" stroke-width="2.93" fill="none"/>
<text x="456.74" y="93.70" xml:space="preserve" style="white-space:pre" fill="#000" stroke="#000" stroke-width="0.6">F-12 (1 mm) at -30 °C</text>
<line x1="380.0" y1="124.5" x2="435.00" y2="124.5" stroke="#ff7f0e" stroke-width="4.77" stroke-dasharray="4.17,6.87"/>
<rect x="400.48" y="117.48" width="14.04" height="14.04" fill="#ff7f0e"/>
<text x="456.74" y="133.70" xml:space="preserve" style="white-space:pre" fill="#000" stroke="#000" stroke-width="0.6">I-01  (2 mm) at  20 °C</text>
<line x1="380.0" y1="164.0" x2="435.00" y2="164.0" stroke="#1f77b4" stroke-width="4.77" stroke-dasharray="26.67,6.67,4.17,6.67"/>
<path d="M407.50 158.44L401.94 169.56L413.06 169.56Z" fill="#1f77b4" stroke="#1f77b4" stroke-width="2.93" stroke-linejoin="round"/>
<text x="456.74" y="173.20" xml:space="preserve" style="white-space:pre" fill="#000" stroke="#000" stroke-width="0.6">I-01  (2 mm) at -30 °C</text>
</svg>
</body></html>
